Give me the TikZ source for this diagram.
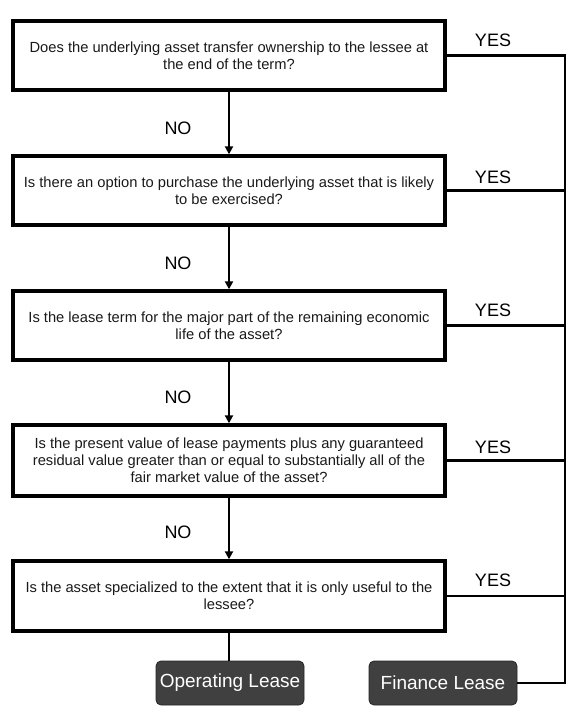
\documentclass[tikz,border=0pt]{standalone}
\usepackage{fontspec}
\setmainfont{Liberation Sans}
\usetikzlibrary{arrows.meta}
\begin{document}
\begin{tikzpicture}[x=1pt,y=-1pt,
  qbox/.style={draw=black, line width=3.4pt, minimum width=432pt, inner sep=0pt, align=center,
    font=\fontsize{14.7}{17}\selectfont, text=black!90},
  endbox/.style={draw=black!85, line width=0.8pt, fill=black!75, rounded corners=5pt, minimum width=148pt,
    minimum height=44pt, inner sep=0pt, text=white, font=\fontsize{19}{20}\selectfont},
  lbl/.style={font=\fontsize{18}{20}\selectfont, text=black, inner sep=0pt},
  conn/.style={line width=2.8pt, draw=black},
  arr/.style={conn, -{Triangle[length=8pt,width=8pt]}}
]
\useasboundingbox (0,0) rectangle (583,726);
\node[qbox, minimum height=69pt] (q1) at (229,55.5) {Does the underlying asset transfer ownership to the lessee at\\ the end of the term?};
\node[qbox, minimum height=69pt] (q2) at (229,190.5) {Is there an option to purchase the underlying asset that is likely\\ to be exercised?};
\node[qbox, minimum height=69pt] (q3) at (229,325.5) {Is the lease term for the major part of the remaining economic\\ life of the asset?};
\node[qbox, minimum height=71pt] (q4) at (229,460.5) {Is the present value of lease payments plus any guaranteed\\ residual value greater than or equal to substantially all of the\\ fair market value of the asset?};
\node[qbox, minimum height=70pt] (q5) at (229,596) {Is the asset specialized to the extent that it is only useful to the\\ lessee?};
\node[endbox] (op) at (230,683) {Operating Lease};
\node[endbox] (fin) at (443,683) {Finance Lease};
\coordinate (r1) at (565,55.5);
\coordinate (r2) at (565,190.5);
\coordinate (r3) at (565,325.5);
\coordinate (r4) at (565,460.5);
\coordinate (r5) at (565,596);
\coordinate (rb) at (565,683);
\draw[arr] (q1.south) -- (q2.north);
\draw[arr] (q2.south) -- (q3.north);
\draw[arr] (q3.south) -- (q4.north);
\draw[arr] (q4.south) -- (q5.north);
\draw[conn] (q5.south) -- (q5.south |- op.north);
\draw[conn, line join=miter] (q1.east) -- (r1) -- (rb) -- (fin.east);
\draw[conn] (q2.east) -- (r2);
\draw[conn] (q3.east) -- (r3);
\draw[conn] (q4.east) -- (r4);
\draw[conn] (q5.east) -- (r5);
\node[lbl] (y1) at (493,40) {YES};
\node[lbl] (y2) at (493,177) {YES};
\node[lbl] (y3) at (493,310) {YES};
\node[lbl] (y4) at (493,447) {YES};
\node[lbl] (y5) at (493,580) {YES};
\node[lbl] (n1) at (178,128) {NO};
\node[lbl] (n2) at (178,263) {NO};
\node[lbl] (n3) at (178,397) {NO};
\node[lbl] (n4) at (178,532) {NO};
\end{tikzpicture}
\end{document}
